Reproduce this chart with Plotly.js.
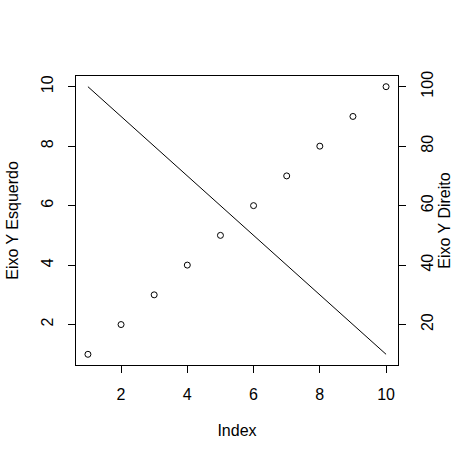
<!DOCTYPE html>
<html>
<head>
<meta charset="utf-8">
<script src="https://cdn.plot.ly/plotly-3.0.1.min.js"></script>
<style>
  html, body { margin: 0; padding: 0; background: #fff; }
  #chart { width: 474px; height: 460px; }
</style>
</head>
<body>
<div id="chart"></div>
<script>
// index values and the two series
const idx = [1, 2, 3, 4, 5, 6, 7, 8, 9, 10];
const leftVals = [1, 2, 3, 4, 5, 6, 7, 8, 9, 10];
const rightVals = [100, 90, 80, 70, 60, 50, 40, 30, 20, 10];

const xTicks = [2, 4, 6, 8, 10];
const leftTicks = [2, 4, 6, 8, 10];
const rightTicks = [20, 40, 60, 80, 100];

const font = "Liberation Sans, Arial, sans-serif";

const pts = {
  x: idx,
  y: leftVals,
  type: "scatter",
  mode: "markers",
  marker: { symbol: "circle-open", size: 6, color: "#000", line: { width: 1, color: "#000" } },
  yaxis: "y",
  hoverinfo: "x+y",
};

const line = {
  x: idx,
  y: rightVals,
  type: "scatter",
  mode: "lines",
  line: { color: "#000", width: 1 },
  yaxis: "y2",
};

// R style 4% padding on each side
function pad(a, b) {
  const d = (b - a) * 0.04;
  return [a - d, b + d];
}

const axisBase = {
  showgrid: false,
  zeroline: false,
  showline: true,
  linecolor: "#000",
  linewidth: 1,
  ticks: "outside",
  ticklen: 7,
  tickwidth: 1,
  tickcolor: "#000",
  tickfont: { family: font, size: 16, color: "#000" },
};

const layout = {
  width: 474,
  height: 460,
  margin: { l: 76, r: 76, t: 76, b: 95 },
  paper_bgcolor: "#fff",
  plot_bgcolor: "#fff",
  showlegend: false,
  font: { family: font, color: "#000" },
  xaxis: Object.assign({}, axisBase, {
    range: pad(1, 10),
    tickvals: xTicks,
    mirror: true,
    ticklabelstandoff: 8,
    title: { text: "Index", font: { family: font, size: 16 }, standoff: 22 },
  }),
  yaxis: Object.assign({}, axisBase, {
    range: pad(1, 10),
    tickvals: leftTicks,
    tickangle: -90,
    ticklabelstandoff: 9,
    title: { text: "Eixo Y Esquerdo", font: { family: font, size: 16 }, standoff: 15 },
  }),
  yaxis2: Object.assign({}, axisBase, {
    range: pad(10, 100),
    tickvals: rightTicks,
    tickangle: -90,
    overlaying: "y",
    side: "right",
    ticklabelstandoff: 8,
    title: { text: "Eixo Y Direito", font: { family: font, size: 16 }, standoff: 2 },
  }),
};

Plotly.newPlot("chart", [pts, line], layout, { displayModeBar: false, staticPlot: true });
</script>
</body>
</html>
